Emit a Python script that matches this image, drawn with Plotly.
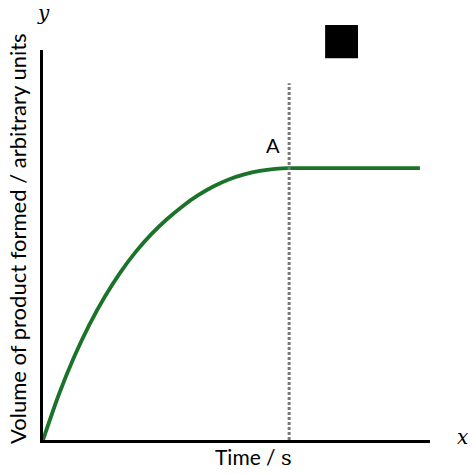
import plotly.graph_objects as go

# Curve data (arbitrary units)
time_vals = [0, 0.4, 0.8, 1.2, 1.6, 2.0, 2.4, 2.8, 3.2, 3.6, 4.0, 4.4, 4.8, 5.2, 5.6, 6.0, 6.36, 8.0, 9.74]
product_vals = [0, 1.14, 2.12, 2.96, 3.68, 4.30, 4.83, 5.28, 5.66, 5.99, 6.27, 6.50, 6.68, 6.81, 6.90, 6.95, 6.97, 6.97, 6.97]

# Vertical dotted marker at point A
marker_time = [6.36, 6.36]
marker_y = [0, 9.15]

x_title = "Time / <span style='font-family:DejaVu Serif, serif'>s</span>"
y_title = "Volume of product formed / arbitrary units"

fig = go.Figure()
fig.add_trace(go.Scatter(x=time_vals, y=product_vals, mode="lines",
                         line=dict(color="#1b7229", width=3.8, shape="spline", smoothing=0.6),
                         showlegend=False))
fig.add_trace(go.Scatter(x=marker_time, y=marker_y, mode="lines",
                         line=dict(color="#787878", width=3, dash="3px,2px"),
                         hoverinfo="skip", showlegend=False))

fig.update_xaxes(range=[0, 10], showline=True, linecolor="black", linewidth=3,
                 showgrid=False, zeroline=False, showticklabels=False, ticks="")
fig.update_yaxes(range=[0, 10], showline=True, linecolor="black", linewidth=3,
                 showgrid=False, zeroline=False, showticklabels=False, ticks="")

# Axis titles
fig.add_annotation(xref="paper", yref="paper", x=0.545, y=-0.044, text=x_title,
                   showarrow=False, xanchor="center", yanchor="middle",
                   font=dict(size=21, color="black", family="Lato"))
fig.add_annotation(xref="paper", yref="paper", x=-0.0646, y=0.518, text=y_title,
                   textangle=-90, showarrow=False, xanchor="center", yanchor="middle",
                   font=dict(size=22, color="black", family="Lato"))

fig.add_annotation(x=marker_time[0], y=6.97, text="A", showarrow=False,
                   xanchor="right", yanchor="bottom", xshift=-7, yshift=9,
                   font=dict(size=20, color="black", family="Lato"))
fig.add_annotation(xref="paper", yref="paper", x=0.0, y=1.095, text="<i>y</i>",
                   showarrow=False, xanchor="center", yanchor="middle",
                   font=dict(size=20, color="black", family="DejaVu Serif"))
fig.add_annotation(xref="paper", yref="paper", x=1.083, y=0.008, text="<i>x</i>",
                   showarrow=False, xanchor="center", yanchor="middle",
                   font=dict(size=20, color="black", family="DejaVu Serif"))
fig.add_shape(type="rect", xref="paper", yref="paper", x0=0.729, x1=0.814, y0=0.979, y1=1.064,
              fillcolor="black", line=dict(width=0))

fig.update_layout(width=474, height=474, plot_bgcolor="white", paper_bgcolor="white",
                  margin=dict(l=43, r=44, t=50, b=34), showlegend=False)

fig.write_html("out.html", config={"displayModeBar": False},
               post_script="document.body.style.margin='0';document.body.style.padding='0';")
